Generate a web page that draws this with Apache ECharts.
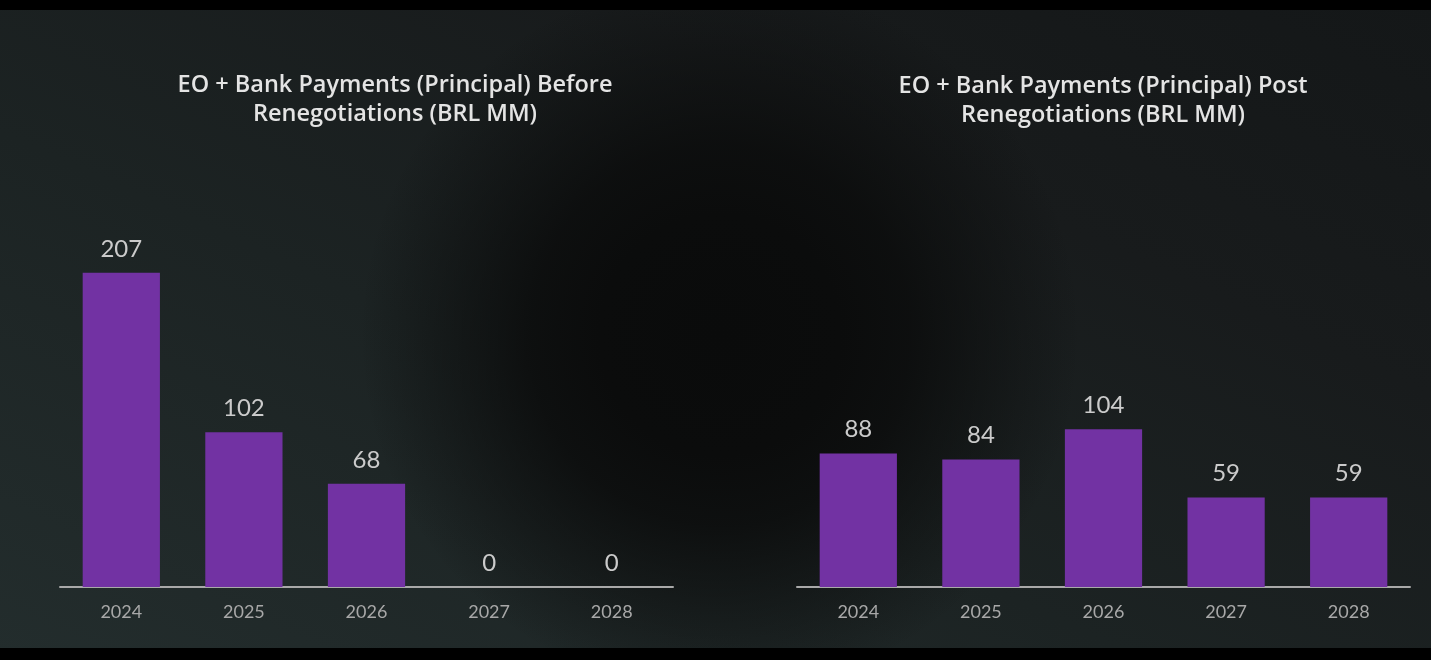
<!DOCTYPE html>
<html>
<head>
<meta charset="utf-8">
<script src="https://cdn.jsdelivr.net/npm/echarts@6/dist/echarts.min.js"></script>
<style>
html,body{margin:0;padding:0;background:#000;}
#c{width:1431px;height:660px;
background:
 linear-gradient(to bottom,#000 0,#000 10px,rgba(0,0,0,0) 10px,rgba(0,0,0,0) 648px,#000 648px),
 radial-gradient(circle at 720px 335px,#0a0b0b 0,#0b0c0c 120px,rgba(11,12,12,0.85) 190px,rgba(12,13,13,0) 360px),
 linear-gradient(to top right,#232d2d 0%,#1c2323 40%,#181b1c 70%,#141718 100%);
}
</style>
</head>
<body>
<div id="c"></div>
<script>
var categories = ['2024','2025','2026','2027','2028'];
var beforeValues = [207, 102, 68, 0, 0];
var postValues = [88, 84, 104, 59, 59];
var titleBefore = 'EO + Bank Payments (Principal) Before\nRenegotiations (BRL MM)';
var titlePost = 'EO + Bank Payments (Principal) Post\nRenegotiations (BRL MM)';

var chart = echarts.init(document.getElementById('c'), null, {renderer:'canvas'});
var fontFam = 'Lato, "Open Sans", sans-serif';
var titleFam = '"Open Sans", Lato, sans-serif';
function xAxis(idx){
  return {
    type:'category', gridIndex:idx, data:categories,
    axisLine:{lineStyle:{color:'#a9a9a9', width:2}},
    axisTick:{show:false},
    axisLabel:{color:'#a8a8a8', fontSize:18, margin:16, fontFamily:fontFam}
  };
}
function yAxis(idx){
  return {type:'value', gridIndex:idx, min:0, max:255, show:false, splitLine:{show:false}};
}
function series(idx, data){
  return {
    type:'bar', xAxisIndex:idx, yAxisIndex:idx, data:data,
    barCategoryGap:'37%',
    itemStyle:{color:'#7232a3'},
    label:{show:true, position:'top', distance:12, color:'#cbcbcb', fontSize:24, fontFamily:fontFam}
  };
}
chart.setOption({
  backgroundColor:'transparent',
  animation:false,
  title:[
    {text:titleBefore, left:390, top:66, textAlign:'center',
     textStyle:{color:'#e4e4e4', fontSize:23.5, fontWeight:600, lineHeight:29, fontFamily:titleFam}},
    {text:titlePost, left:1098, top:67, textAlign:'center',
     textStyle:{color:'#e4e4e4', fontSize:23.5, fontWeight:600, lineHeight:29, fontFamily:titleFam}}
  ],
  grid:[
    {left:60, width:613, top:200, bottom:73},
    {left:797, width:613, top:200, bottom:73}
  ],
  xAxis:[xAxis(0), xAxis(1)],
  yAxis:[yAxis(0), yAxis(1)],
  series:[series(0, beforeValues), series(1, postValues)]
});
</script>
</body>
</html>
